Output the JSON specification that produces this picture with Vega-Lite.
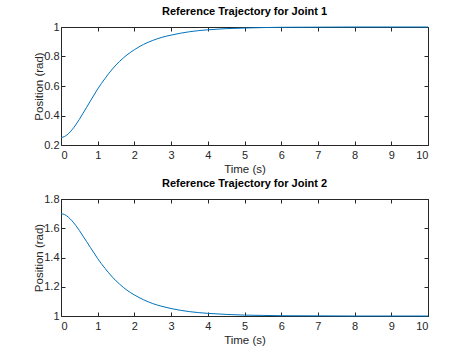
{
  "$schema": "https://vega.github.io/schema/vega-lite/v6.json",
  "background": "white",
  "padding": {"left": 32, "top": 5, "right": 5, "bottom": 5},
  "spacing": 54,
  "bounds": "flush",
  "datasets": {
    "j1": [
      {"t": 0, "q": 0.25}, {"t": 0.1, "q": 0.258}, {"t": 0.2, "q": 0.276}, {"t": 0.3, "q": 0.303},
      {"t": 0.4, "q": 0.336}, {"t": 0.5, "q": 0.374}, {"t": 0.6, "q": 0.415}, {"t": 0.7, "q": 0.456},
      {"t": 0.8, "q": 0.498}, {"t": 0.9, "q": 0.539}, {"t": 1.0, "q": 0.58}, {"t": 1.2, "q": 0.651},
      {"t": 1.4, "q": 0.715}, {"t": 1.6, "q": 0.768}, {"t": 1.8, "q": 0.811}, {"t": 2.0, "q": 0.846},
      {"t": 2.25, "q": 0.882}, {"t": 2.5, "q": 0.909}, {"t": 2.75, "q": 0.93}, {"t": 3.0, "q": 0.945},
      {"t": 3.5, "q": 0.968}, {"t": 4.0, "q": 0.981}, {"t": 4.5, "q": 0.989}, {"t": 5.0, "q": 0.993},
      {"t": 5.5, "q": 0.996}, {"t": 6.0, "q": 0.998}, {"t": 7.0, "q": 0.999}, {"t": 8.0, "q": 1.0},
      {"t": 9.0, "q": 1.0}, {"t": 10.0, "q": 1.0}
    ],
    "j2": [
      {"t": 0, "q": 1.7}, {"t": 0.1, "q": 1.693}, {"t": 0.2, "q": 1.676}, {"t": 0.3, "q": 1.651},
      {"t": 0.4, "q": 1.62}, {"t": 0.5, "q": 1.585}, {"t": 0.6, "q": 1.546}, {"t": 0.7, "q": 1.508},
      {"t": 0.8, "q": 1.469}, {"t": 0.9, "q": 1.431}, {"t": 1.0, "q": 1.392}, {"t": 1.2, "q": 1.326},
      {"t": 1.4, "q": 1.266}, {"t": 1.6, "q": 1.217}, {"t": 1.8, "q": 1.176}, {"t": 2.0, "q": 1.144},
      {"t": 2.25, "q": 1.111}, {"t": 2.5, "q": 1.085}, {"t": 2.75, "q": 1.066}, {"t": 3.0, "q": 1.051},
      {"t": 3.5, "q": 1.03}, {"t": 4.0, "q": 1.018}, {"t": 4.5, "q": 1.011}, {"t": 5.0, "q": 1.006},
      {"t": 5.5, "q": 1.004}, {"t": 6.0, "q": 1.002}, {"t": 7.0, "q": 1.001}, {"t": 8.0, "q": 1.0},
      {"t": 9.0, "q": 1.0}, {"t": 10.0, "q": 1.0}
    ]
  },
  "vconcat": [
    {
      "title": {"text": "Reference Trajectory for Joint 1"},
      "width": 367,
      "height": 118,
      "data": {"name": "j1"},
      "layer": [
        {
          "mark": {"type": "line", "color": "#0072BD", "strokeWidth": 1, "interpolate": "monotone"},
          "encoding": {
            "x": {"field": "t", "type": "quantitative", "scale": {"domain": [0, 10], "nice": false},
                  "axis": {"orient": "bottom", "title": "Time (s)", "values": [0,1,2,3,4,5,6,7,8,9,10]}},
            "y": {"field": "q", "type": "quantitative", "scale": {"domain": [0.2, 1], "nice": false, "zero": false},
                  "axis": {"orient": "left", "title": "Position (rad)", "values": [0.2,0.4,0.6,0.8,1], "format": "~g", "labelPadding": 6, "titleX": -22, "titleY": 59, "titleBaseline": "middle", "titleAngle": 270}}
          }
        },
        {
          "mark": {"type": "line", "opacity": 0},
          "encoding": {
            "x": {"field": "t", "type": "quantitative",
                  "axis": {"orient": "top", "title": null, "labels": false, "values": [0,1,2,3,4,5,6,7,8,9,10]}},
            "y": {"field": "q", "type": "quantitative",
                  "axis": {"orient": "right", "title": null, "labels": false, "values": [0.2,0.4,0.6,0.8,1]}}
          }
        }
      ],
      "resolve": {"axis": {"x": "independent", "y": "independent"}}
    },
    {
      "title": {"text": "Reference Trajectory for Joint 2"},
      "width": 367,
      "height": 117,
      "data": {"name": "j2"},
      "layer": [
        {
          "mark": {"type": "line", "color": "#0072BD", "strokeWidth": 1, "interpolate": "monotone"},
          "encoding": {
            "x": {"field": "t", "type": "quantitative", "scale": {"domain": [0, 10], "nice": false},
                  "axis": {"orient": "bottom", "title": "Time (s)", "values": [0,1,2,3,4,5,6,7,8,9,10]}},
            "y": {"field": "q", "type": "quantitative", "scale": {"domain": [1, 1.8], "nice": false, "zero": false},
                  "axis": {"orient": "left", "title": "Position (rad)", "values": [1,1.2,1.4,1.6,1.8], "format": "~g", "labelPadding": 6, "titleX": -22, "titleY": 58.5, "titleBaseline": "middle", "titleAngle": 270}}
          }
        },
        {
          "mark": {"type": "line", "opacity": 0},
          "encoding": {
            "x": {"field": "t", "type": "quantitative",
                  "axis": {"orient": "top", "title": null, "labels": false, "values": [0,1,2,3,4,5,6,7,8,9,10]}},
            "y": {"field": "q", "type": "quantitative",
                  "axis": {"orient": "right", "title": null, "labels": false, "values": [1,1.2,1.4,1.6,1.8]}}
          }
        }
      ],
      "resolve": {"axis": {"x": "independent", "y": "independent"}}
    }
  ],
  "config": {
    "view": {"stroke": "#262626", "strokeWidth": 1},
    "title": {"font": "Liberation Sans", "fontSize": 11, "fontWeight": "bold", "color": "#000000", "offset": 4},
    "axis": {
      "grid": false,
      "domain": false,
      "tickColor": "#262626",
      "tickSize": -4,
      "labelFont": "Liberation Sans",
      "labelFontSize": 11,
      "labelColor": "#262626",
      "labelPadding": 8,
      "titleFont": "Liberation Sans",
      "titleFontSize": 11.5,
      "titleFontWeight": "normal",
      "titleColor": "#262626",
      "titlePadding": 3
    }
  }
}
